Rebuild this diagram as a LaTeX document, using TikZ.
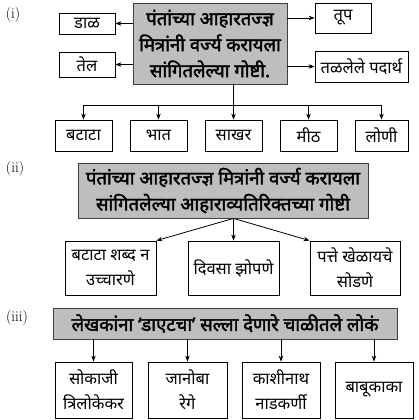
\documentclass[tikz,border=0pt]{standalone}
\usepackage{fontspec}
\newfontfamily\dev[Script=Devanagari]{Noto Sans}
\newfontfamily\devb[Script=Devanagari,FakeBold=2.2]{Noto Sans}
\usetikzlibrary{arrows.meta}
\definecolor{hdrgray}{RGB}{190,190,190}
\tikzset{
  box/.style={draw=black, line width=0.8pt, fill=white, inner sep=1pt, align=center, font=\dev\fontsize{16.5}{25}\selectfont},
  hdr/.style={draw=black!75, line width=0.8pt, fill=hdrgray, inner sep=1pt, align=center, font=\devb\fontsize{18.5}{26}\selectfont},
  lbl/.style={font=\fontsize{15}{17}\selectfont},
  arr/.style={line width=0.8pt, -{Stealth[length=6pt,width=4.5pt]}},
  ln/.style={line width=0.8pt}
}
\begin{document}
\begin{tikzpicture}[x=1pt,y=-1pt]
\useasboundingbox (0,0) rectangle (419,420);
% (i)
\node[lbl] (l1) at (13,15) {(i)};
\node[hdr, minimum width=154pt, minimum height=81pt] (c1) at (210,43.5) {पंतांच्या आहारतज्ज्ञ\\मित्रांनी वर्ज्य करायला\\सांगितलेल्या गोष्टी.};
\node[box, minimum width=56pt, minimum height=21pt] (dal) at (87,23.5) {डाळ};
\node[box, minimum width=56pt, minimum height=25pt] (tel) at (87,64.5) {तेल};
\node[box, minimum width=56pt, minimum height=30pt] (tup) at (343,18) {तूप};
\node[box, minimum width=93pt, minimum height=31pt] (tal) at (361.5,66.5) {तळलेले पदार्थ};
\draw[arr] (c1.west |- dal) -- (dal);
\draw[arr] (c1.west |- tel) -- (tel);
\draw[arr] (c1.east |- tup) -- (tup);
\draw[arr] (c1.east |- tal) -- (tal);
\node[box, minimum width=57pt, minimum height=31pt] (bat) at (83.5,135.5) {बटाटा};
\node[box, minimum width=57pt, minimum height=31pt] (bhat) at (158.5,135.5) {भात};
\node[box, minimum width=57pt, minimum height=31pt] (sak) at (233.5,135.5) {साखर};
\node[box, minimum width=57pt, minimum height=31pt] (mith) at (308.5,135.5) {मीठ};
\node[box, minimum width=53pt, minimum height=31pt] (loni) at (381.5,135.5) {लोणी};
\coordinate (jl) at (83.5,105);
\coordinate (jr) at (381.5,105);
\coordinate (jm) at (233.5,105);
\draw[ln] (c1.south -| sak) -- (jm);
\draw[ln] (jl) -- (jr);
\foreach \n in {bat,bhat,sak,mith,loni}{
  \draw[arr] (jl -| \n) -- (\n.north);
}
% (ii)
\node[lbl] (l2) at (15,169) {(ii)};
\node[hdr, minimum width=290pt, minimum height=55pt] (c2) at (223,190.5) {पंतांच्या आहारतज्ज्ञ मित्रांनी वर्ज्य करायला\\सांगितलेल्या आहाराव्यतिरिक्तच्या गोष्टी};
\node[box, minimum width=91pt, minimum height=54pt] (b1) at (110.5,268) {बटाटा शब्द न\\उच्चारणे};
\node[box, minimum width=91pt, minimum height=54pt] (b2) at (233.5,268) {दिवसा झोपणे};
\node[box, minimum width=90pt, minimum height=54pt] (b3) at (355,268) {पत्ते खेळायचे\\सोडणे};
\coordinate (o2) at (c2.south -| b2);
\draw[arr] (o2) -- (b1.north east);
\draw[arr] (o2) -- (b2.north);
\draw[arr] (o2) -- (b3.north west);
% (iii)
\node[lbl] (l3) at (17,318) {(iii)};
\node[hdr, minimum width=344pt, minimum height=31pt] (c3) at (225,323.5) {लेखकांना ‘डाएटचा’ सल्ला देणारे चाळीतले लोकं};
\node[box, minimum width=77pt, minimum height=56pt] (s1) at (93.5,390) {सोकाजी\\त्रिलोकेकर};
\node[box, minimum width=79pt, minimum height=56pt] (s2) at (187.5,390) {जानोबा\\रेगे};
\node[box, minimum width=78pt, minimum height=56pt] (s3) at (281,390) {काशीनाथ\\नाडकर्णी};
\node[box, minimum width=78pt, minimum height=56pt] (s4) at (374,390) {बाबूकाका};
\foreach \n in {s1,s2,s3,s4}{
  \draw[arr] (c3.south -| \n) -- (\n.north);
}
\end{tikzpicture}
\end{document}
